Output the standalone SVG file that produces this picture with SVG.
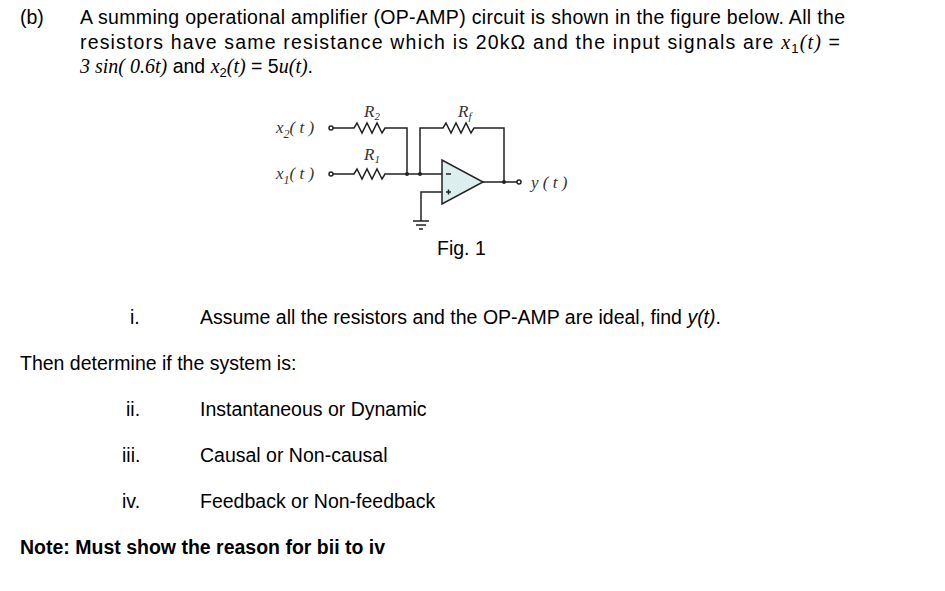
<svg xmlns="http://www.w3.org/2000/svg" width="945" height="591" viewBox="0 0 945 591">
<style>
.t{font-family:"Liberation Sans",Arial,sans-serif;font-size:19.5px;fill:#000}
.m{font-family:"Liberation Serif","Times New Roman",serif;font-size:20px;font-style:italic}
.c{font-family:"Liberation Serif",serif;font-style:italic;font-size:17px;fill:#333}
.w{fill:none;stroke:#222;stroke-width:1.5}
</style>
<rect width="945" height="591" fill="#fff"/>
<text class="t" x="20" y="24">(b)</text>
<text class="t" x="80" y="24" textLength="765" lengthAdjust="spacing">A summing operational amplifier (OP-AMP) circuit is shown in the figure below. All the</text>
<text class="t" x="80" y="49" textLength="760" lengthAdjust="spacing">resistors have same resistance which is 20kΩ and the input signals are <tspan class="m">x</tspan><tspan font-size="13" dy="4">1</tspan><tspan class="m" dy="-4">(t)</tspan> =</text>
<text class="t" x="80" y="73"><tspan class="m" font-style="normal">3 </tspan><tspan class="m">sin</tspan><tspan class="m" font-style="normal">( 0.6</tspan><tspan class="m">t</tspan><tspan class="m" font-style="normal">)</tspan> and <tspan class="m">x</tspan><tspan font-size="13" dy="4">2</tspan><tspan class="m" dy="-4">(t)</tspan> = 5<tspan class="m">u</tspan><tspan class="m">(t)</tspan>.</text>
<g id="circuit">
<text class="c" x="276" y="133">x<tspan font-size="12" dy="5">2</tspan><tspan dy="-5">( t )</tspan></text>
<text class="c" x="276" y="179">x<tspan font-size="12" dy="5">1</tspan><tspan dy="-5">( t )</tspan></text>
<text class="c" x="364" y="117" font-size="15">R<tspan font-size="11" dy="3">2</tspan></text>
<text class="c" x="364" y="160" font-size="15">R<tspan font-size="11" dy="3">1</tspan></text>
<text class="c" x="458" y="117" font-size="15">R<tspan font-size="11" dy="3">f</tspan></text>
<text class="c" x="531" y="188">y ( t )</text>
<circle cx="331" cy="128" r="2" class="w" stroke-width="1"/>
<circle cx="331" cy="174" r="2" class="w" stroke-width="1"/>
<circle cx="519" cy="182" r="2" class="w" stroke-width="1"/>
<path class="w" d="M333 128H354l3-5 5 10 5-10 5 10 5-10 5 10 3-5H407V174M333 174H354l3-5 5 10 5-10 5 10 5-10 5 10 3-5H442M420 174V128H443l3-5 5 10 5-10 5 10 5-10 5 10 3-5H504V182M483 182H517M442 192H421V221M413 221H429M416 225H426M419 229H423"/>
<polygon points="442,160 442,204 483,182" fill="#ddeeee" stroke="#222" stroke-width="1.5"/>
<path class="w" d="M446 174h5M446 192h5M448.5 189.5v5" stroke-width="1.2"/>
<circle cx="407" cy="174" r="2" fill="#222"/><circle cx="420" cy="174" r="2" fill="#222"/><circle cx="504" cy="182" r="2" fill="#222"/>
<text class="t" x="437" y="255">Fig. 1</text>
</g>
<text class="t" x="130" y="324">i.</text>
<text class="t" x="200" y="324">Assume all the resistors and the OP-AMP are ideal, find <tspan font-style="italic">y(t)</tspan>.</text>
<text class="t" x="20" y="370">Then determine if the system is:</text>
<text class="t" x="126" y="416">ii.</text>
<text class="t" x="200" y="416">Instantaneous or Dynamic</text>
<text class="t" x="122" y="462">iii.</text>
<text class="t" x="200" y="462">Causal or Non-causal</text>
<text class="t" x="122" y="508">iv.</text>
<text class="t" x="200" y="508">Feedback or Non-feedback</text>
<text class="t" x="20" y="554" font-weight="bold">Note: Must show the reason for bii to iv</text>
</svg>
